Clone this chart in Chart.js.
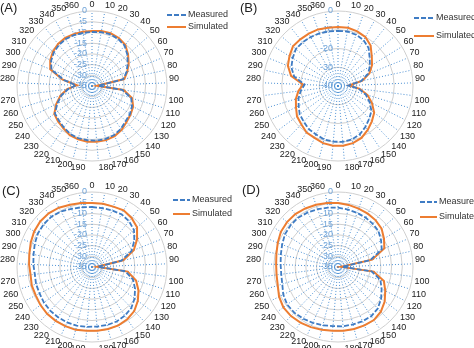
<!DOCTYPE html>
<html>
<head>
<meta charset="utf-8">
<script src="https://cdn.jsdelivr.net/npm/chart.js@4.4.1/dist/chart.umd.min.js"></script>
<style>
  html, body { margin: 0; padding: 0; background: #fff; overflow: hidden; }
  #wrap { position: relative; width: 474px; height: 348px; overflow: hidden; }
  .panel { position: absolute; width: 237px; height: 172px; }
</style>
</head>
<body>
<div id="wrap">
  <div class="panel" style="left:0;top:0"><canvas id="chart-a" width="237" height="172"></canvas></div>
  <div class="panel" style="left:237px;top:0"><canvas id="chart-b" width="237" height="172"></canvas></div>
  <div class="panel" style="left:0;top:181px"><canvas id="chart-c" width="237" height="172"></canvas></div>
  <div class="panel" style="left:237px;top:181px"><canvas id="chart-d" width="237" height="172"></canvas></div>
</div>
<script>
// Azimuth categories (deg)
const angleLabels = ['0','10','20','30','40','50','60','70','80','90','100','110','120','130','140','150','160','170','180',
    '190','200','210','220','230','240','250','260','270','280','290','300','310','320','330','340','350','360'];

// Normalised patterns in dB
const measuredA = [-9.8, -9.5, -9.4, -9.9, -10.8, -13.0, -15.5, -17.6, -20.2, -32.0, -20.8, -15.9, -14.1, -13.0, -12.3, -10.9, -9.9, -9.5, -9.4,
    -9.6, -9.8, -10.4, -11.6, -12.7, -13.5, -16.9, -20.1, -23.8, -27.5, -21.6, -14.6, -12.6, -11.3, -10.4, -9.9, -9.8, -9.8];
const simulatedA = [-9.3, -8.9, -8.9, -9.3, -10.3, -12.6, -14.9, -17.3, -19.6, -32.7, -20.1, -15.4, -13.5, -12.6, -11.7, -10.3, -9.3, -8.9, -8.9,
    -8.9, -9.3, -9.8, -11.2, -12.1, -13.1, -16.3, -19.6, -23.3, -28.0, -21.0, -14.0, -12.1, -10.7, -9.8, -9.3, -9.3, -9.3];

const measuredB = [-10.6, -10.5, -11.0, -12.0, -14.0, -17.5, -20.0, -22.8, -27.3, -34.5, -29.0, -24.6, -21.2, -17.8, -15.9, -13.8, -11.7, -10.6, -10.1,
    -10.2, -10.6, -11.6, -12.2, -13.6, -14.6, -16.5, -18.0, -20.0, -22.2, -16.1, -13.2, -11.6, -10.1, -10.0, -10.1, -10.2, -10.5];
const simulatedB = [-8.5, -8.5, -9.1, -10.1, -12.3, -16.0, -18.7, -21.9, -26.7, -34.1, -28.3, -23.5, -19.7, -16.0, -13.9, -11.7, -9.6, -8.5, -8.0,
    -8.0, -8.5, -9.6, -10.1, -11.7, -12.8, -14.9, -16.5, -18.7, -21.3, -14.4, -11.2, -9.6, -8.0, -8.0, -8.0, -8.0, -8.5];

const measuredC = [-7.0, -7.1, -7.0, -6.8, -7.5, -8.9, -11.8, -15.2, -21.0, -32.2, -19.3, -15.0, -12.5, -10.3, -8.5, -7.6, -7.1, -7.0, -7.1,
    -7.0, -6.7, -6.6, -6.7, -6.8, -7.1, -7.6, -7.7, -8.1, -7.6, -7.1, -6.2, -5.3, -4.9, -4.8, -5.3, -6.2, -6.7];
const simulatedC = [-5.1, -5.1, -5.1, -4.7, -5.6, -7.0, -10.3, -14.0, -20.1, -32.7, -18.2, -13.5, -10.7, -8.4, -6.5, -5.6, -5.1, -5.1, -5.1,
    -5.1, -4.7, -4.7, -4.7, -4.7, -5.1, -5.6, -5.6, -6.1, -5.6, -5.1, -4.2, -3.3, -2.8, -2.8, -3.3, -4.2, -4.7];

const measuredD = [-7.3, -7.8, -8.2, -8.6, -9.1, -9.8, -11.4, -13.0, -19.6, -33.0, -19.2, -14.3, -12.2, -10.0, -8.2, -7.3, -7.2, -7.3, -7.2,
    -7.3, -6.9, -6.4, -5.9, -5.5, -5.5, -6.4, -7.8, -8.3, -8.2, -7.7, -6.9, -5.9, -5.5, -5.4, -5.9, -6.4, -6.9];
const simulatedD = [-5.1, -5.6, -6.1, -6.5, -7.0, -7.9, -9.8, -11.7, -18.7, -33.6, -18.2, -12.6, -10.3, -7.9, -6.1, -5.1, -5.1, -5.1, -5.1,
    -5.1, -4.7, -4.2, -3.7, -3.3, -3.3, -4.2, -5.6, -6.1, -6.1, -5.6, -4.7, -3.7, -3.3, -3.3, -3.7, -4.2, -4.7];

const seriesNames = ['Measured', 'Simulated'];

const FONT = '"Liberation Sans", Arial, sans-serif';
const BLUE = '#3f7cc4';
const ORANGE = '#ed7d31';

// Radial value labels, panel tag and the legend box
const panelDecor = {
    id: 'panelDecor',
    beforeDatasetsDraw(chart) {
        const r = chart.scales.r;
        const ctx = chart.ctx;
        ctx.save();
        ctx.font = '9px ' + FONT;
        ctx.fillStyle = '#6fa3d8';
        ctx.textAlign = 'right';
        ctx.textBaseline = 'middle';
        r.ticks.forEach(t => {
            const d = r.getDistanceFromCenterForValue(t.value);
            ctx.fillText(String(t.value), r.xCenter - 5, r.yCenter - d);
        });
        ctx.restore();
    },
    afterDraw(chart, args, opts) {
        const ctx = chart.ctx;
        ctx.save();
        ctx.font = '13px ' + FONT;
        ctx.fillStyle = '#222';
        ctx.textAlign = 'left';
        ctx.textBaseline = 'top';
        ctx.fillText(opts.tag, opts.tagX, opts.tagY);

        ctx.font = '9px ' + FONT;
        ctx.textBaseline = 'middle';
        chart.data.datasets.forEach((ds, i) => {
            const y = opts.legendY[i];
            ctx.strokeStyle = ds.borderColor;
            ctx.lineWidth = 2;
            ctx.setLineDash(ds.borderDash || []);
            ctx.beginPath();
            ctx.moveTo(opts.legendX, y);
            ctx.lineTo(opts.legendX + opts.lineLen, y);
            ctx.stroke();
            ctx.setLineDash([]);
            ctx.fillStyle = '#333';
            ctx.fillText(ds.label, opts.legendX + opts.lineLen + 2, y);
        });
        ctx.restore();
    }
};

function makePolar(id, measured, simulated, minVal, step, pad, decor) {
    const ctx = document.getElementById(id).getContext('2d');
    return new Chart(ctx, {
        type: 'radar',
        data: {
            labels: angleLabels,
            datasets: [{
                label: seriesNames[0],
                data: measured,
                borderColor: BLUE,
                borderWidth: 1.8,
                borderDash: [5, 2],
                pointRadius: 0,
                fill: false,
                tension: 0
            }, {
                label: seriesNames[1],
                data: simulated,
                borderColor: ORANGE,
                borderWidth: 2,
                pointRadius: 0,
                fill: false,
                tension: 0
            }]
        },
        options: {
            responsive: false,
            animation: false,
            layout: { padding: pad },
            plugins: {
                legend: { display: false },
                tooltip: { enabled: false },
                panelDecor: decor
            },
            scales: {
                r: {
                    min: minVal,
                    max: 0,
                    ticks: { stepSize: step, display: false },
                    grid: { circular: true, color: '#cfcfcf', lineWidth: 1 },
                    angleLines: { color: '#4a8fd3', lineWidth: 1, borderDash: [1, 2] },
                    pointLabels: {
                        font: { family: FONT, size: 9, lineHeight: 1 },
                        color: '#222',
                        padding: 2
                    }
                }
            }
        },
        plugins: [panelDecor]
    });
}

makePolar('chart-a', measuredA, simulatedA, -35, 5, { left: 0, right: 53, top: 0, bottom: 0 },
    { tag: '(A)', tagX: 0, tagY: 2, legendX: 167, lineLen: 19, legendY: [15, 27] });
makePolar('chart-b', measuredB, simulatedB, -40, 10, { left: 9, right: 44, top: 0, bottom: 0 },
    { tag: '(B)', tagX: 3, tagY: 2, legendX: 177, lineLen: 20, legendY: [18, 36] });
makePolar('chart-c', measuredC, simulatedC, -35, 5, { left: 0, right: 53, top: 0, bottom: 0 },
    { tag: '(C)', tagX: 2, tagY: 4, legendX: 173, lineLen: 17, legendY: [19, 33] });
makePolar('chart-d', measuredD, simulatedD, -35, 5, { left: 9, right: 44, top: 0, bottom: 0 },
    { tag: '(D)', tagX: 5, tagY: 3, legendX: 183, lineLen: 17, legendY: [21, 36] });
</script>
</body>
</html>
